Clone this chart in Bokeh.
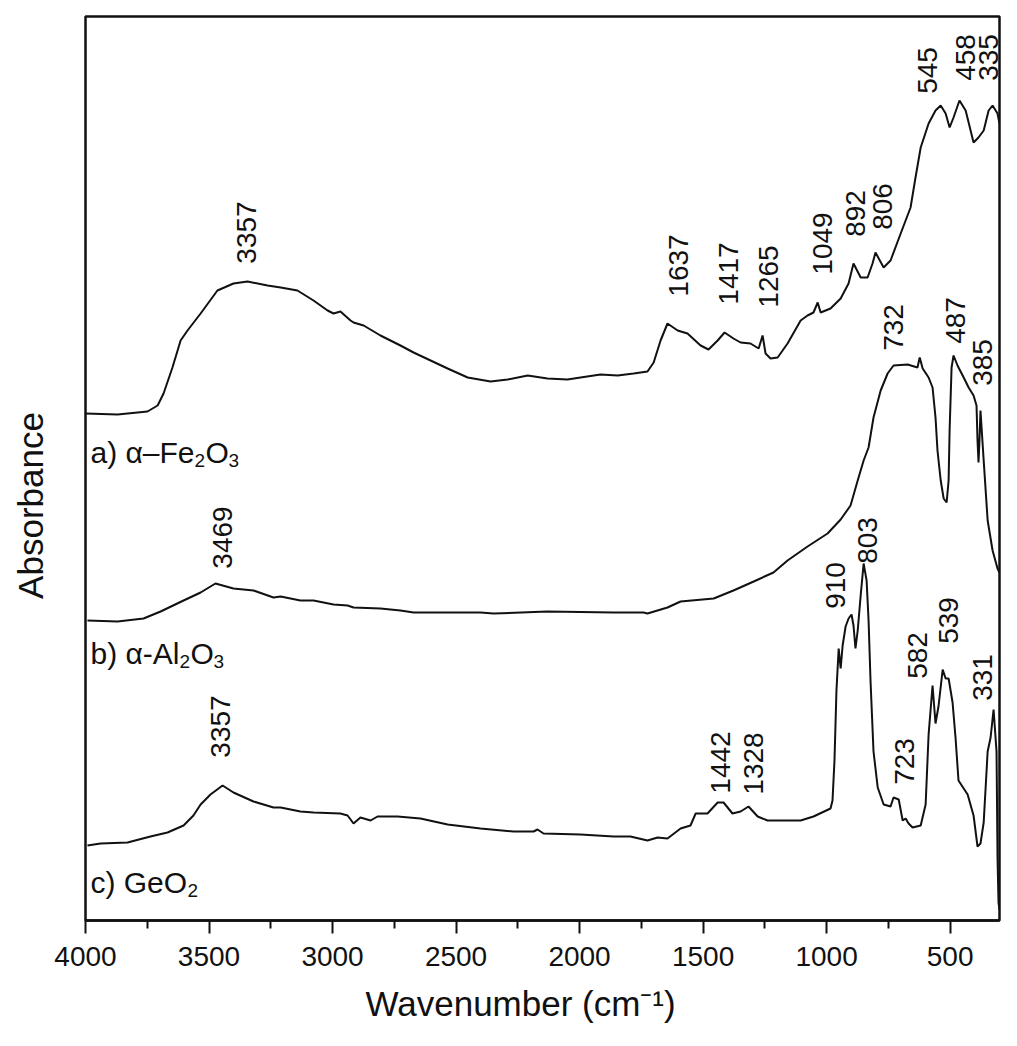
import math
from bokeh.plotting import figure
from bokeh.models import Range1d, FixedTicker, Label, Title
from bokeh.core.properties import value
from bokeh.embed import file_html
from bokeh.resources import INLINE

# ---------------- data (wavenumber in cm^-1, absorbance in arbitrary units) ----------------
wn_a = [4000, 3870, 3749, 3708, 3684, 3648, 3615, 3587, 3534, 3466,
        3401, 3344, 3263, 3210, 3142, 3077, 3020, 2996, 2968, 2927,
        2915, 2874, 2806, 2725, 2672, 2534, 2453, 2360, 2291, 2210,
        2130, 2049, 1996, 1915, 1846, 1781, 1725, 1700, 1672, 1644,
        1603, 1563, 1510, 1478, 1441, 1413, 1377, 1348, 1308, 1275,
        1259, 1247, 1227, 1198, 1158, 1105, 1077, 1053, 1036, 1024,
        984, 943, 911, 891, 862, 834, 814, 802, 769, 741,
        700, 660, 640, 619, 587, 559, 538, 518, 502, 486,
        462, 437, 417, 405, 385, 364, 344, 328, 308, 300]
abs_a = [507, 506, 509, 515, 527, 553, 580, 590, 607, 630,
         637, 639, 635, 633, 630, 620, 610, 607, 609, 600,
         598, 595, 585, 575, 568, 552, 543, 539, 541, 545,
         542, 541, 543, 546, 545, 547, 549, 558, 580, 597,
         590, 587, 575, 571, 580, 588, 582, 578, 577, 572,
         585, 567, 562, 563, 577, 600, 605, 608, 618, 608,
         612, 622, 637, 657, 643, 643, 657, 668, 653, 660,
         687, 713, 743, 773, 797, 810, 815, 807, 793, 803,
         820, 810, 790, 778, 783, 790, 810, 815, 807, 797]

wn_b = [3992, 3870, 3765, 3696, 3603, 3534, 3474, 3401, 3320, 3239,
        3210, 3130, 3077, 2996, 2939, 2915, 2806, 2725, 2672, 2401,
        2348, 2130, 1862, 1741, 1725, 1644, 1591, 1457, 1377, 1295,
        1215, 1158, 1077, 996, 943, 903, 874, 850, 830, 810,
        781, 753, 729, 672, 632, 623, 611, 587, 571, 559,
        551, 538, 526, 514, 506, 502, 494, 486, 470, 445,
        425, 405, 393, 389, 385, 381, 377, 364, 348, 328,
        308, 300]
abs_b = [300, 299, 302, 309, 320, 328, 337, 332, 330, 323,
         324, 320, 320, 316, 315, 313, 312, 310, 308, 308,
         307, 309, 308, 308, 307, 313, 319, 322, 330, 339,
         348, 360, 374, 387, 401, 415, 440, 460, 473, 503,
         530, 547, 555, 556, 553, 563, 552, 543, 533, 503,
         470, 440, 422, 418, 440, 490, 553, 565, 555, 543,
         533, 525, 515, 480, 458, 480, 510, 460, 400, 370,
         352, 348]

wn_c = [3992, 3939, 3830, 3737, 3668, 3603, 3563, 3534, 3494, 3445,
        3401, 3320, 3239, 3210, 3130, 3077, 2968, 2939, 2915, 2887,
        2846, 2818, 2737, 2644, 2534, 2401, 2267, 2186, 2170, 2146,
        1996, 1862, 1794, 1725, 1684, 1644, 1591, 1551, 1530, 1482,
        1441, 1417, 1381, 1348, 1316, 1279, 1239, 1105, 1053, 984,
        976, 968, 960, 951, 943, 935, 923, 911, 899, 891,
        883, 874, 862, 850, 838, 830, 822, 810, 793, 769,
        741, 729, 708, 692, 680, 668, 652, 619, 599, 587,
        571, 559, 547, 530, 518, 506, 490, 478, 466, 429,
        405, 389, 377, 364, 348, 336, 324, 312, 308, 304,
        300]
abs_c = [75, 77, 78, 84, 88, 95, 105, 116, 126, 135,
         128, 119, 113, 113, 109, 108, 107, 105, 97, 103,
         100, 104, 104, 102, 96, 92, 89, 89, 91, 87,
         86, 84, 84, 80, 83, 82, 92, 95, 107, 107,
         118, 118, 107, 109, 114, 104, 100, 100, 104, 112,
         120, 160, 230, 272, 252, 275, 294, 302, 306, 295,
         272, 290, 325, 357, 340, 300, 239, 169, 133, 116,
         114, 123, 121, 100, 102, 97, 93, 95, 116, 186,
         235, 197, 214, 251, 242, 242, 218, 183, 140, 126,
         105, 74, 77, 98, 169, 183, 211, 169, 63, 18,
         11]

# peak annotations
peaks_a_text = ["3357", "1637", "1417", "1265", "1049", "892", "806", "545", "458", "335"]
peaks_a_wn = [3348, 1599, 1397, 1235, 1016, 883, 773, 591, 437, 344]
peaks_a_y = [688, 655, 647, 644, 677, 707, 714, 850, 863, 863]

peaks_b_text = ["3469", "732", "487", "385"]
peaks_b_wn = [3445, 729, 478, 368]
peaks_b_y = [383, 593, 600, 558]

peaks_c_text = ["3357", "1442", "1328", "910", "803", "723", "582", "539", "331"]
peaks_c_wn = [3453, 1429, 1295, 963, 834, 684, 632, 506, 368]
peaks_c_y = [194, 158, 157, 335, 380, 159, 265, 300, 243]

x_ticks = [4000, 3500, 3000, 2500, 2000, 1500, 1000, 500]
x_minor = [3750, 3250, 2750, 2250, 1750, 1250, 750]
y_title = "Absorbance"
y_title_at = 415

INK = "#111111"
FONT = "Liberation Sans"

p = figure(width=1017, height=1046, output_backend="svg", toolbar_location=None,
           x_range=Range1d(4000, 300), y_range=Range1d(0, 904),
           min_border_left=85, min_border_right=18, min_border_top=16,
           min_border_bottom=126)
p.grid.visible = False
p.background_fill_color = "white"
p.border_fill_color = "white"
p.outline_line_color = INK
p.outline_line_width = 2.5
p.outline_line_alpha = 1.0

# left axis: no line, no ticks; its single tick label carries the y title
ya = p.yaxis[0]
ya.ticker = FixedTicker(ticks=[y_title_at], minor_ticks=[])
ya.major_label_overrides = {y_title_at: y_title}
ya.major_label_orientation = "vertical"
ya.axis_line_alpha = 0
ya.major_tick_line_alpha = 0
ya.minor_tick_line_alpha = 0
ya.major_tick_out = 0
ya.major_tick_in = 0
ya.minor_tick_out = 0
ya.minor_tick_in = 0
ya.major_label_standoff = 36
ya.major_label_text_font = FONT
ya.major_label_text_font_size = "35px"
ya.major_label_text_color = INK

xa = p.xaxis[0]
xa.ticker = FixedTicker(ticks=x_ticks, minor_ticks=x_minor)
xa.axis_line_color = INK
xa.axis_line_width = 2.5
xa.major_tick_line_color = INK
xa.major_tick_line_width = 2
xa.major_tick_out = 13
xa.major_tick_in = 0
xa.minor_tick_line_color = INK
xa.minor_tick_line_width = 2
xa.minor_tick_out = 8
xa.minor_tick_in = 0
xa.major_label_text_font = FONT
xa.major_label_text_font_size = "28px"
xa.major_label_text_color = INK
xa.major_label_standoff = 13

for wx, ay in ((wn_a, abs_a), (wn_b, abs_b), (wn_c, abs_c)):
    p.line(wx, ay, line_color=INK, line_width=2)

for txt, wx, ay in ((peaks_a_text, peaks_a_wn, peaks_a_y),
                    (peaks_b_text, peaks_b_wn, peaks_b_y),
                    (peaks_c_text, peaks_c_wn, peaks_c_y)):
    p.text(x=wx, y=ay, text=txt, angle=math.pi / 2, text_align="center",
           text_baseline="middle", text_font=value(FONT), text_font_size="28px",
           text_color=INK)


def add_label(x, y, text, size, dx=0, dy=0):
    p.add_layout(Label(x=x, y=y, text=text, x_offset=dx, y_offset=dy,
                       text_font=FONT, text_font_size=f"{size}px", text_color=INK,
                       text_align="left", text_baseline="alphabetic"))


# series names with subscripts
SZ, SUB, SD = 30, 19, -8
add_label(3980, 468, "a) \u03b1\u2013Fe", SZ)
add_label(3980, 468, "2", SUB, dx=104, dy=SD)
add_label(3980, 468, "O", SZ, dx=115)
add_label(3980, 468, "3", SUB, dx=138, dy=SD)

add_label(3980, 267, "b) \u03b1-Al", SZ)
add_label(3980, 267, "2", SUB, dx=89, dy=SD)
add_label(3980, 267, "O", SZ, dx=100)
add_label(3980, 267, "3", SUB, dx=123, dy=SD)

add_label(3980, 38, "c) GeO", SZ)
add_label(3980, 38, "2", SUB, dx=97, dy=SD)

# x axis title
p.add_layout(Title(text="Wavenumber (cm\u207b\u00b9)", align="left", offset=280, standoff=26,
                   text_font=FONT, text_font_size="35px", text_font_style="normal",
                   text_color=INK), "below")

open("out.html", "w").write(file_html(p, INLINE))
